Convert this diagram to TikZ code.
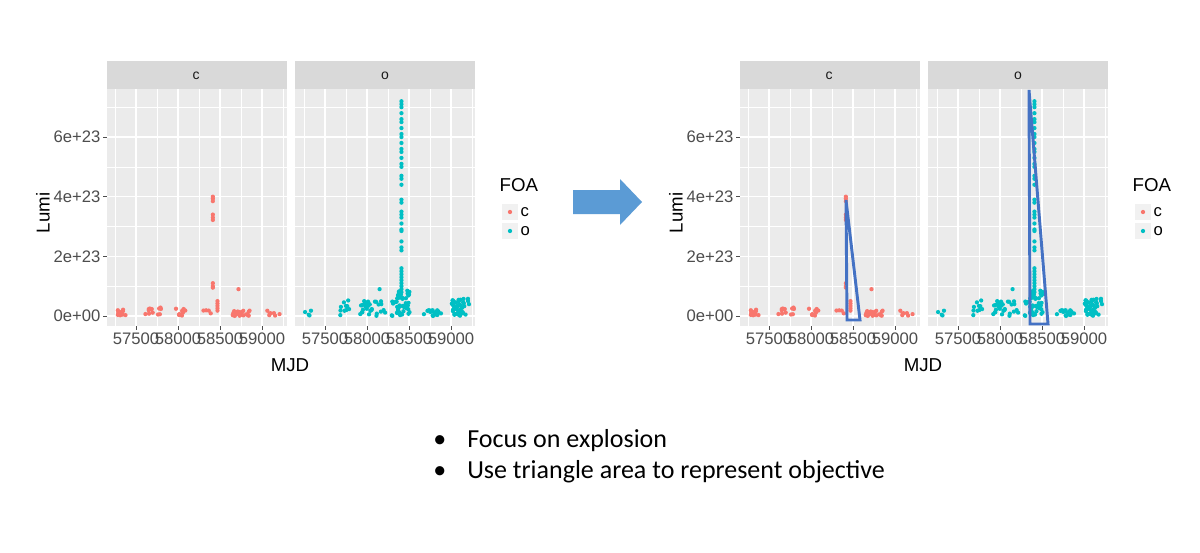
\documentclass[tikz,border=0pt]{standalone}
\usepackage{fontspec}
\setmainfont{Liberation Sans}
\newfontfamily\calib{Carlito}
\definecolor{cc}{HTML}{F8766D}
\definecolor{oc}{HTML}{00BFC4}
\definecolor{pbg}{HTML}{EBEBEB}
\definecolor{sbg}{HTML}{D9D9D9}
\definecolor{tx}{HTML}{4D4D4D}
\definecolor{tri}{HTML}{4472C4}
\definecolor{arr}{HTML}{5B9BD5}
\tikzset{
 tick/.style={font=\fontsize{12.5}{14}\selectfont,text=tx,inner sep=1pt},
 strip/.style={font=\fontsize{10.5}{12}\selectfont,text=black!90},
 lab/.style={font=\fontsize{14}{16}\selectfont},
 majg/.style={white,line width=0.9pt},
 ming/.style={white,line width=0.45pt},
 trian/.style={tri,line width=2.2pt,line join=miter},
 bul/.style={font=\calib\fontsize{19.5}{22}\selectfont,anchor=base west,inner sep=0}
}
% #3 = MJD - 57500
\newcommand\dpt[4]{\fill[#1] ({#2+(#3)*0.084},{316-#4*2.983}) circle (1.6pt);}
\begin{document}
\begin{tikzpicture}[x=0.75pt,y=-0.75pt]
\useasboundingbox[fill=white] (0,0) rectangle (1200,553);
\foreach \ox in {0,633}{
\begin{scope}[xshift={\ox*0.75pt}]
\pgfmathsetseed{7}
\foreach \px/\bx in {107/136,295/325}{
 \fill[sbg] (\px,61) rectangle ({\px+180},89);
 \fill[pbg] (\px,89) rectangle ({\px+180},326);
 \foreach \yy in {1,3,5,7}{\draw[ming] (\px,{316-\yy*29.83}) -- ({\px+180},{316-\yy*29.83});}
 \foreach \xx in {-250,250,750,1250,1750}{\draw[ming] ({\bx+\xx*0.084},89) -- ({\bx+\xx*0.084},326);}
 \foreach \yy in {0,2,4,6}{\draw[majg] (\px,{316-\yy*29.83}) -- ({\px+180},{316-\yy*29.83});}
 \foreach \xx in {0,500,1000,1500}{\draw[majg] ({\bx+\xx*0.084},89) -- ({\bx+\xx*0.084},326);
   \draw[tx,line width=0.6pt] ({\bx+\xx*0.084},326) -- ({\bx+\xx*0.084},330);}
 \foreach \xx/\t in {0/57500,500/58000,1000/58500,1500/59000}{\node[tick,anchor=north] (xt\px\t) at ({\bx+\xx*0.084},331) {\t};}
}
\node[strip] (sc) at (196,76) {c};
\node[strip] (so) at (385,76) {o};
\foreach \yy/\t in {0/0e+00,2/2e+23,4/4e+23,6/6e+23}{
 \draw[tx,line width=0.6pt] (103,{316-\yy*29.83}) -- (107,{316-\yy*29.83});
 \node[tick,anchor=east] (yt\t) at (102,{316-\yy*29.83}) {\t};}
\node[lab,rotate=90] (ylab) at (43,213) {Lumi};
\node[lab] (xlab) at (290,365) {MJD};
\node[lab,anchor=west] (foa) at (495,185) {FOA};
\fill[pbg!70] (502,204) rectangle (518,220);
\fill[pbg!70] (502,223) rectangle (518,239);
\fill[cc] (510,212) circle (1.6pt);
\fill[oc] (510,231) circle (1.6pt);
\node[tick,text=black,anchor=west] (lc) at (519,212) {c};
\node[tick,text=black,anchor=west] (lo) at (519,231) {o};
\foreach \c/\w/\n/\m in {-230/120/10/2.2,100/200/12/3,450/150/10/2.5,800/100/4/2,1150/250/22/1.8,1550/180/7/2}{
 \foreach \i in {1,...,\n}{\pgfmathsetmacro\xx{\c+rnd*\w}\pgfmathsetmacro\yy{rnd*\m}\dpt{cc}{136}{\xx}{\yy}}}
\foreach \y in {40,39.3,38.5,34,33,32.2,11,10,9.5}{\dpt{cc}{136}{915}{\y}}
\foreach \y in {5,4.2,3.4,2.6,1.8}{\dpt{cc}{136}{970}{\y}}
\dpt{cc}{136}{1220}{9}
\foreach \c/\w/\n/\m in {-250/100/4/2,180/120/10/6,420/300/30/5,780/120/10/5,850/160/40/9,1150/250/18/2,1500/220/45/6}{
 \foreach \i in {1,...,\n}{\pgfmathsetmacro\xx{\c+rnd*\w}\pgfmathsetmacro\yy{rnd*\m}\dpt{oc}{325}{\xx}{\yy}}}
\foreach \y in {72,71,70,68,66,65,63,61,60,58,56,55,53,51,50,47,46,44,39,38,35,34,33,31,29,28.5,25,23,22,16,15,14,13,12,11,10,9,8}{\dpt{oc}{325}{910}{\y}}
\dpt{oc}{325}{650}{9}
\end{scope}}
\coordinate (t1a) at (846,200); \coordinate (t1b) at (847,320); \coordinate (t1c) at (860,320);
\draw[trian] (t1a) -- (t1b) -- (t1c) -- cycle;
\coordinate (t2a) at (1029,90); \coordinate (t2b) at (1030,324); \coordinate (t2c) at (1048,324);
\draw[trian] (t2a) -- (t2b) -- (t2c) -- cycle;
\fill[arr] (573,190) -- (620,190) -- (620,179) -- (642,202) -- (620,225) -- (620,214) -- (573,214) -- cycle;
\node[bul] (b1) at (433,447) {•};
\node[bul] (t1) at (467,447) {Focus on explosion};
\node[bul] (b2) at (433,478) {•};
\node[bul] (t2) at (467,478) {Use triangle area to represent objective};
\end{tikzpicture}
\end{document}
